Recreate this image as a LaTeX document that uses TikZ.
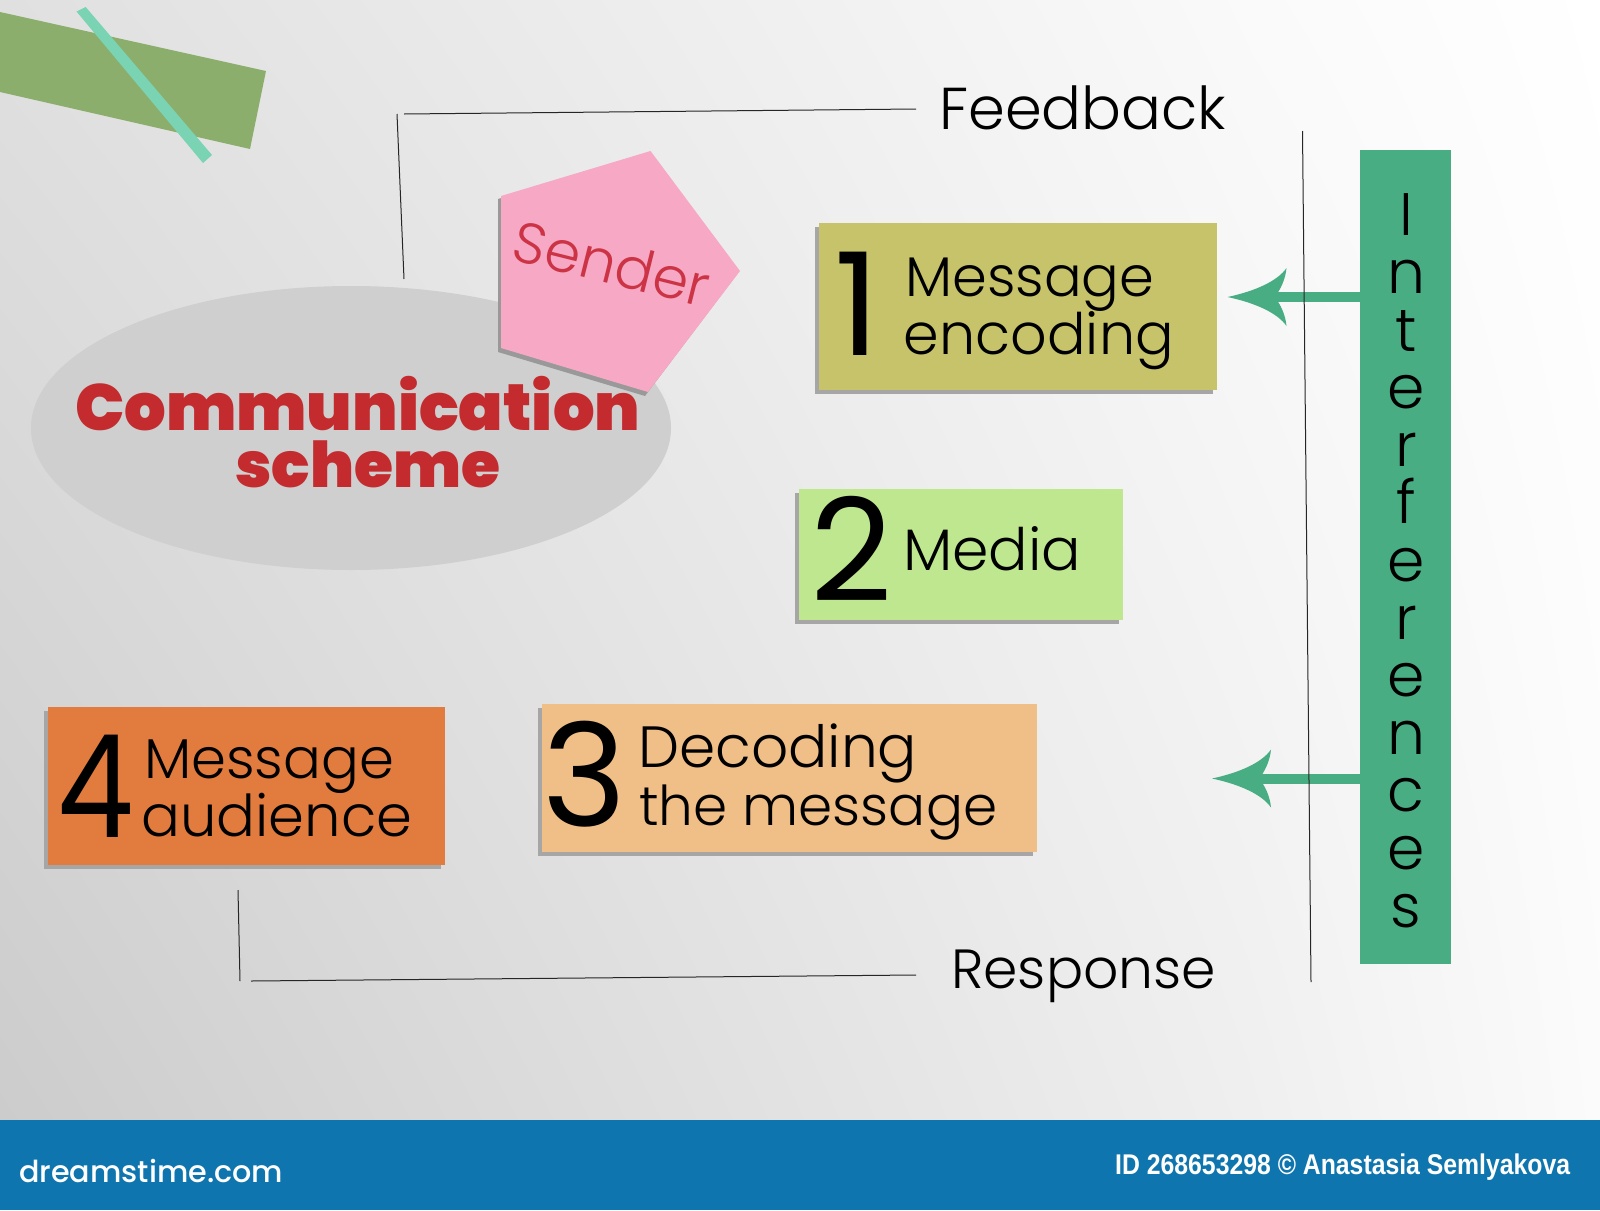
\documentclass[tikz,border=0pt]{standalone}
\usepackage{fontspec}
\usepackage{graphicx}
\usetikzlibrary{shapes.geometric,shadows,arrows.meta,shadings}
\newfontfamily\gothic{Poppins Light}
\newfontfamily\digitfont{Poppins}
\newfontfamily\titlefont{Poppins Black}
\newfontfamily\brandfont{Poppins Medium}
\newfontfamily\idfont{Liberation Sans}
\newcommand\fitw[2]{\resizebox{#1pt}{!}{#2}}
\definecolor{bandgreen}{HTML}{8CAE6C}
\definecolor{stripe}{HTML}{7AD3B2}
\definecolor{blobgrey}{HTML}{CFCFCF}
\definecolor{pink}{HTML}{F6A8C5}
\definecolor{titlered}{HTML}{C32B2E}
\definecolor{senderred}{HTML}{CC3344}
\definecolor{boxa}{HTML}{C7C36B}
\definecolor{boxb}{HTML}{BFE78F}
\definecolor{boxc}{HTML}{F0BE87}
\definecolor{boxd}{HTML}{E27B3E}
\definecolor{interf}{HTML}{49AD84}
\definecolor{footer}{HTML}{0F75AE}
\definecolor{bgUL}{HTML}{E0E0E0}
\definecolor{bgLL}{HTML}{CCCCCC}
\definecolor{bgUM}{HTML}{FAFAFA}
\definecolor{bgLM}{HTML}{EFEFEF}
\definecolor{bgLR}{HTML}{FBFBFB}
\pgfdeclarearrow{
  name=Swept,
  setup code={
    \pgfarrowssettipend{0pt}
    \pgfarrowssetlineend{-40pt}
    \pgfarrowssetvisualbackend{-47pt}
  },
  drawing code={
    \pgfpathmoveto{\pgfqpoint{0pt}{0pt}}
    \pgfpathcurveto{\pgfqpoint{-28pt}{6pt}}{\pgfqpoint{-50pt}{16pt}}{\pgfqpoint{-59pt}{29pt}}
    \pgfpathcurveto{\pgfqpoint{-58pt}{18pt}}{\pgfqpoint{-53pt}{7pt}}{\pgfqpoint{-47pt}{0pt}}
    \pgfpathcurveto{\pgfqpoint{-53pt}{-7pt}}{\pgfqpoint{-58pt}{-18pt}}{\pgfqpoint{-59pt}{-29pt}}
    \pgfpathcurveto{\pgfqpoint{-50pt}{-16pt}}{\pgfqpoint{-28pt}{-6pt}}{\pgfqpoint{0pt}{0pt}}
    \pgfpathclose
    \pgfusepathqfill
  }
}
\tikzset{
  box/.style={anchor=north west,inner sep=0pt,outer sep=0pt,
    general shadow={shadow xshift=-4pt,shadow yshift=-4pt,fill=black!35}},
  digit/.style={anchor=base west,inner sep=0pt,text=black,font=\digitfont\fontsize{143}{143}\selectfont},
  label/.style={anchor=base west,inner sep=0pt,text=black,font=\gothic\fontsize{60}{60}\selectfont},
  thin rule/.style={draw=black!85,line width=1pt},
  shaft/.style={draw=interf,line width=10pt,-{Swept}},
  title/.style={anchor=base west,inner sep=0pt,text=titlered,font=\titlefont\fontsize{80}{80}\selectfont},
}
\begin{document}
\begin{tikzpicture}[x=1pt,y=-1pt]
\useasboundingbox (0,0) rectangle (1600,1210);
% background
\shade[upper left=bgUL,upper right=bgUM,lower left=bgLL,lower right=bgLM] (0,0) rectangle (1251,1120);
\shade[upper left=bgUM,upper right=white,lower left=bgLM,lower right=bgLR] (1250,0) rectangle (1600,1120);
\fill[footer] (0,1120) rectangle (1600,1210);
% blob
\node[ellipse,fill=blobgrey,minimum width=640pt,minimum height=284pt,inner sep=0pt] (blob) at (351,428) {};
% decoration
\fill[bandgreen] (0,12) -- (266,71) -- (250,149) -- (0,92) -- cycle;
\fill[stripe] (76.5,11.5) -- (85.7,7) -- (212,155) -- (203,163) -- cycle;
% feedback bracket
\coordinate (fbA) at (397,114);
\coordinate (fbB) at (404,279);
\coordinate (fbC) at (404,114);
\coordinate (fbD) at (916,109);
\draw[thin rule] (fbA) -- (fbB);
\draw[thin rule] (fbC) -- (fbD);
% response bracket
\coordinate (reA) at (238,890);
\coordinate (reB) at (240,981);
\coordinate (reC) at (251,981);
\coordinate (reD) at (916,975);
\draw[thin rule] (reA) -- (reB);
\draw[thin rule] (reC) -- (reD);
% sender
\fill[black!40] (498,199) -- (647,155) -- (737,274) -- (645,396) -- (498,352) -- cycle;
\fill[pink] (501,196) -- (650.5,151) -- (740,271) -- (648,392) -- (501,348) -- cycle;
\node[rotate=-14,inner sep=0pt,text=senderred,font=\gothic\fontsize{50}{50}\selectfont] (sender) at (612,263) {\fitw{200}{Sender}};
% title
\node[title] (titleA) at (75,430) {\fitw{565}{Communication}};
\node[title] (titleB) at (235,487) {\fitw{265}{scheme}};
% boxes
\node[box,fill=boxa,minimum width=398pt,minimum height=167pt] (b1) at (819,223) {};
\node[box,fill=boxb,minimum width=324pt,minimum height=131pt] (b2) at (799,489) {};
\node[box,fill=boxc,minimum width=495pt,minimum height=148pt] (b3) at (542,704) {};
\node[box,fill=boxd,minimum width=397pt,minimum height=158pt] (b4) at (48,707) {};
\node[digit] (n1) at (834,355) {1};
\node[label] (l1a) at (905,296.5) {\fitw{249}{Message}};
\node[label] (l1b) at (903.6,354.7) {\fitw{270}{encoding}};
\node[digit] (n2) at (810,601.5) {2};
\node[label] (l2) at (903,570) {\fitw{178}{Media}};
\node[digit] (n3) at (542,826) {3};
\node[label] (l3a) at (638,767) {\fitw{279}{Decoding}};
\node[label] (l3b) at (639,825) {\fitw{358}{the message}};
\node[digit] (n4) at (57,837) {\scalebox{.85}[1]{4}};
\node[label] (l4a) at (144,778) {\fitw{250}{Message}};
\node[label] (l4b) at (141,836) {\fitw{271}{audience}};
\node[label] (fb) at (939,129) {\fitw{287}{Feedback}};
\node[label] (re) at (951,988.7) {\fitw{265}{Response}};
% interferences
\node[fill=interf,anchor=north west,inner sep=0pt,minimum width=91pt,minimum height=814pt] (bar) at (1360,150) {};
\node[anchor=base,inner sep=0pt,align=center,text=black,font=\gothic\fontsize{60}{57.6}\selectfont] (bartext) at (1406,927)
  {I\\n\\t\\e\\r\\f\\e\\r\\e\\n\\c\\e\\s};
% arrows
\coordinate (t1) at (1227.5,297);
\coordinate (t2) at (1212,778.5);
\draw[shaft] (bar.west |- t1) -- (t1);
\draw[shaft] (bar.west |- t2) -- (t2);
% long rule
\coordinate (lrA) at (1302.5,131);
\coordinate (lrB) at (1311,982);
\draw[thin rule] (lrA) -- (lrB);
% footer
\node[anchor=base west,inner sep=0pt,text=white,font=\brandfont\fontsize{32}{32}\selectfont] (brand) at (19,1182.5) {\fitw{264}{dreamstime.com}};
\node[anchor=base west,inner sep=0pt,text=white,font=\idfont\bfseries\fontsize{24}{24}\selectfont] (idtxt) at (1115,1174) {\scalebox{1}[1.15]{\fitw{455}{ID 268653298 © Anastasia Semlyakova}}};
\end{tikzpicture}
\end{document}
